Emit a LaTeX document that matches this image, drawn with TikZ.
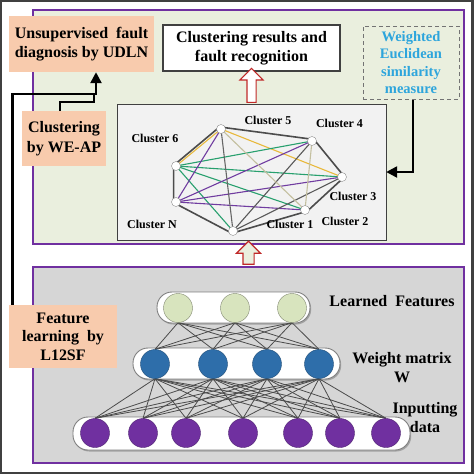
\documentclass[tikz,border=0pt]{standalone}
\usepackage{fontspec}
\setmainfont{Liberation Serif}
\usepackage{tikz}
\usetikzlibrary{shapes,shapes.arrows,shadows,calc,arrows.meta,positioning}
\pgfdeclarelayer{bg}
\pgfdeclarelayer{wires}
\pgfsetlayers{bg,wires,main}
\definecolor{peach}{RGB}{248,203,173}
\definecolor{topbg}{RGB}{234,239,222}
\definecolor{botbg}{RGB}{214,214,214}
\definecolor{panelpurple}{RGB}{112,48,160}
\definecolor{wecol}{RGB}{45,165,220}
\definecolor{arrowred}{RGB}{192,40,40}
\definecolor{clyellow}{RGB}{232,185,60}
\definecolor{clgreen}{RGB}{40,160,110}
\definecolor{clpurple}{RGB}{112,60,160}
\definecolor{clbeige}{RGB}{196,192,160}
\definecolor{featgreen}{RGB}{216,228,190}
\definecolor{wblue}{RGB}{46,110,170}
\definecolor{ipurple}{RGB}{112,48,160}
\tikzstyle{panel}=[draw=panelpurple, line width=1.6pt, inner sep=0pt]
\tikzstyle{stage}=[fill=peach, align=center, inner sep=0pt, font=\bfseries\fontsize{16}{19.5}\selectfont]
\tikzstyle{plain}=[align=center, font=\bfseries\fontsize{16}{19}\selectfont]
\tikzstyle{clnode}=[circle, draw=black!45, fill=white, minimum size=9pt, inner sep=0pt]
\tikzstyle{cllabel}=[font=\bfseries\fontsize{12}{14}\selectfont]
\tikzstyle{rim}=[draw=black!70, line width=1.6pt]
\tikzstyle{pill}=[draw=black!50, line width=0.9pt, fill=white, rounded corners=15pt, drop shadow={shadow xshift=1.2pt, shadow yshift=-1.5pt, fill=black!50, opacity=.6}]
\tikzstyle{unit}=[circle, minimum size=29pt, inner sep=0pt]
\tikzstyle{nnline}=[draw=black!70, line width=0.8pt]
\tikzstyle{conn}=[draw=black, line width=2.4pt, -{Triangle[width=11pt,length=11pt]}]
\tikzstyle{hollow}=[single arrow, draw=arrowred, line width=1.1pt, shape border rotate=90, single arrow head extend=7pt, inner sep=4pt]
\begin{document}
\begin{tikzpicture}[x=1pt,y=-1pt]
\useasboundingbox (0,0) rectangle (474,475);
\begin{pgfonlayer}{bg}
\draw[black!75, line width=2.5pt] (1.2,1.2) rectangle (472.5,472.8);
\node[panel, fill=topbg, minimum width=431, minimum height=234] (top) at (248.5,127) {};
\node[panel, fill=botbg, minimum width=431, minimum height=196] (bot) at (248.5,365) {};
\node[draw=black!75, fill=black!5, minimum width=269, minimum height=136, inner sep=0pt] (clbox) at (251.5,172) {};
\node[pill, minimum width=153, minimum height=31] (lf) at (233.5,307.5) {};
\node[pill, minimum width=207, minimum height=31] (lw) at (236.5,363.5) {};
\node[pill, minimum width=337, minimum height=33] (li) at (241.5,433.5) {};
\end{pgfonlayer}
\node[stage, minimum width=145, minimum height=56] (udln) at (81.5,44) {Unsupervised~ fault\\diagnosis by UDLN};
\node[stage, minimum width=84, minimum height=55] (weap) at (64,138.5) {Clustering\\by WE-AP};
\node[stage, minimum width=108, minimum height=63, font=\bfseries\fontsize{16}{18.5}\selectfont] (l12) at (63,336.5) {Feature\\learning~ by\\L12SF};
\node[plain, draw=black!75, line width=1.2pt, fill=white, minimum width=177, minimum height=46, inner sep=0pt] (res) at (251.5,48) {Clustering results and\\fault recognition};
\node[draw=black!55, line width=1pt, dash pattern=on 4pt off 3pt, minimum width=96, minimum height=73, inner sep=0pt, align=center, text=wecol, font=\bfseries\fontsize{14.5}{17.2}\selectfont] (wes) at (411,62.5) {Weighted\\Euclidean\\similarity\\measure};
\node[hollow, fill=white, minimum height=34] (up1) at ($(clbox.north)!.5!(res.south)$) {};
\node[hollow, fill=topbg, minimum height=23, inner sep=5pt, single arrow head extend=6.5pt] (up2) at ($(top.south)!.5!(bot.north)+(0,0)$) {};
\coordinate (j) at (96,94);
\draw[conn] ($(l12.north west)+(3.5,0)$) |- (j) -- ($(udln.south)+(14.5,0)$);
\draw[black, line width=2.4pt] ($(weap.north)+(-4,0)$) |- ($(j)+(-2,8)$) -- ($(j)+(-2,0)$);
\draw[conn] ($(wes.south)+(2,0)$) |- (clbox.east);
\coordinate (mid) at (258,183);
\node[clnode] (c5) at (221,129) {};
\node[clnode] (c4) at (312,141) {};
\node[clnode] (c3) at (342,177) {};
\node[clnode] (c2) at (305,210) {};
\node[clnode] (c1) at (233,231) {};
\node[clnode] (cn) at (176,202) {};
\node[clnode] (c6) at (176,166) {};
\node[cllabel] (t5) at (268,120) {Cluster 5};
\node[cllabel] (t4) at (339.5,123) {Cluster 4};
\node[cllabel] (t6) at (155,138) {Cluster 6};
\node[cllabel] (tn) at (152,224) {Cluster N};
\node[cllabel] (t3) at (353,196) {Cluster 3};
\node[cllabel] (t2) at (345,221) {Cluster 2};
\node[cllabel] (t1) at (290,224) {Cluster 1};
\begin{pgfonlayer}{wires}
\draw[rim] ($(c6)!-2.5pt!(mid)$) -- ($(c5)!-2.5pt!(mid)$) -- ($(c4)!-2.5pt!(mid)$) -- ($(c3)!-2.5pt!(mid)$) -- ($(c2)!-2.5pt!(mid)$) -- ($(c1)!-2.5pt!(mid)$) -- ($(cn)!-2.5pt!(mid)$) -- cycle;
\foreach \a/\b/\col in {c6/c5/clyellow, c5/c3/clyellow, c6/c4/clgreen, c6/c3/clgreen, c6/c2/clgreen, c6/c1/clgreen, cn/c5/clpurple, cn/c4/clpurple, cn/c3/clpurple, cn/c2/clpurple, c5/c1/black!60, c4/c1/black!65, c3/c1/black!65, c5/c2/clbeige, c4/c2/clbeige}
  \draw[\col, line width=1.1pt] (\a.center) -- (\b.center);
\end{pgfonlayer}
\foreach \x [count=\i] in {178,235,292}
  \node[unit, fill=featgreen, draw=featgreen!60!black] (f\i) at (\x,308) {};
\foreach \x [count=\i] in {155,213,267,319}
  \node[unit, fill=wblue, draw=wblue!70!black] (w\i) at (\x,364) {};
\foreach \x [count=\i] in {95,143,186,243,298,340,386}
  \node[unit, fill=ipurple, draw=ipurple!70!black] (i\i) at (\x,433) {};
\begin{pgfonlayer}{wires}
\foreach \a in {1,...,7}
  \foreach \b in {1,...,4}
    \draw[nnline] (i\a.north) -- (w\b.south);
\foreach \a in {1,...,4}
  \foreach \b in {1,2,3}
    \draw[nnline] (w\a.north) -- (f\b.south);
\end{pgfonlayer}
\node[plain] (tlf) at (392,301) {Learned~ Features};
\node[plain] (tlw) at (402,367.5) {Weight matrix\\W};
\node[plain] (tli) at (425,417.5) {Inputting\\data};
\end{tikzpicture}
\end{document}
